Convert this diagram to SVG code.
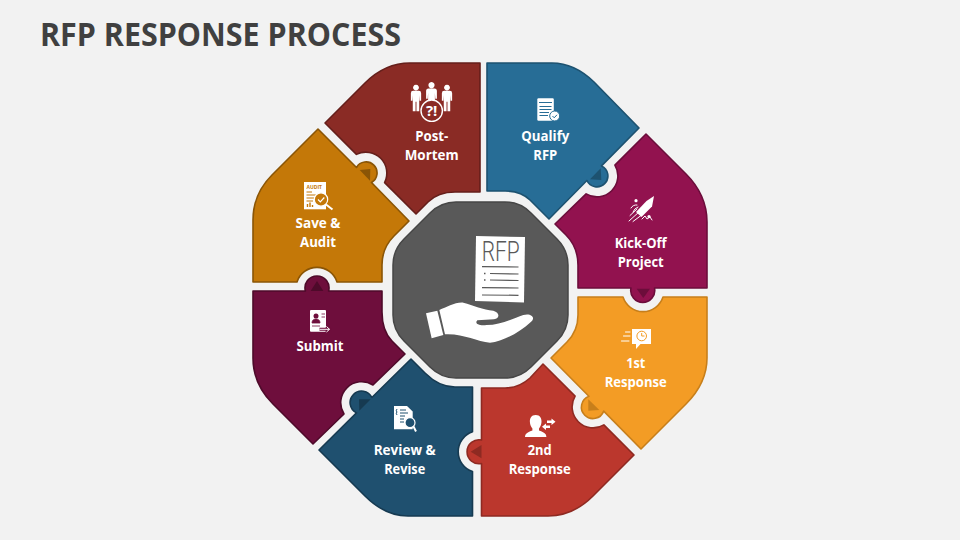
<svg xmlns="http://www.w3.org/2000/svg" width="960" height="540" viewBox="0 0 960 540">
<style>
.t{font-family:"Open Sans","Noto Sans",sans-serif;font-weight:700;font-size:14px;fill:#fff;text-anchor:middle}
.title{font-family:"Open Sans","Noto Sans",sans-serif;font-weight:700;font-size:32px;fill:#404040}
.p{stroke-width:1.6;stroke-linejoin:round}
.w{fill:#fff}
.ln{fill:none;stroke:#fff;stroke-width:1;stroke-linecap:round}
.dl{fill:none;stroke:#595959;stroke-width:1.2}
</style>
<defs>
<path id="person" d="M0-14a3.100 3.100 0 1 1-.01 0zM-3 -7.600H3Q5.400-7.600 5.400-5V2.800H3.800L3.400-3V14H.5V4H-.5V14H-3.400V-3L-3.800 2.800H-5.400V-5Q-5.400-7.600-3-7.600z"/>
</defs>
<rect width="960" height="540" fill="#f2f2f2"/>
<text class="title" x="40" y="45.700" textLength="361" lengthAdjust="spacingAndGlyphs">RFP RESPONSE PROCESS</text>

<g id="post-mortem">
<path class="p" fill="#8a2b25" stroke="#651f1b" d="M480 63H410Q385 63 365 83L325 123L356.400 154.400A21 21 0 0 1 384.600 182.600L416 214L428 202Q438 192 455 192H480Z"/>
<use href="#person" class="w" transform="translate(416 98) scale(.95)"/>
<use href="#person" class="w" transform="translate(431.500 96)"/>
<use href="#person" class="w" transform="translate(447 98) scale(.95)"/>
<circle cx="431.700" cy="110.700" r="10.700" fill="#8a2b25" stroke="#fff" stroke-width="1.400"/>
<text x="431.700" y="116" font-family="Open Sans,sans-serif" font-weight="700" font-size="15" fill="#fff" text-anchor="middle">?!</text>
<text class="t" x="431.700" y="140.700" textLength="33" lengthAdjust="spacingAndGlyphs">Post-</text>
<text class="t" x="431.700" y="160" textLength="54" lengthAdjust="spacingAndGlyphs">Mortem</text>
</g>

<g id="qualify-rfp">
<path class="p" fill="#276d96" stroke="#1d5270" d="M487 63H552Q574.500 63 594 82L639 128L601.500 165.900A11 11 0 1 1 586.900 180.500L549 219L530 200Q521 191 505 191H487Z"/>
<path fill="#1d5270" d="M590 179.300L600.700 168.300L601.300 180Z"/>
<rect class="w" x="537.300" y="98.300" width="16.500" height="22.500" rx="1.200"/>
<path d="M539 102.500H552M539.500 106.500H551.500M539.500 109.500H551.500M539.500 112.500H549M539.500 115.500H548" stroke="#276d96" stroke-width="1" fill="none"/>
<circle cx="554.700" cy="116" r="5" fill="#fff" stroke="#276d96"/>
<path d="M552.500 116l1.700 1.800 2.800-3" fill="none" stroke="#276d96" stroke-width="1"/>
<text class="t" x="545.300" y="140.700" textLength="48" lengthAdjust="spacingAndGlyphs">Qualify</text>
<text class="t" x="545.300" y="160" textLength="24" lengthAdjust="spacingAndGlyphs">RFP</text>
</g>

<g id="kick-off-project">
<path class="p" fill="#92124f" stroke="#6c0d3b" d="M646 134L686 174Q707 195 707 222V288H654.500A12 12 0 1 1 631 288H578V265Q578 247 566 235L555 224L586.100 193.900A21 21 0 0 0 614.900 165.100Z"/>
<path fill="#6c0d3b" d="M636.700 288.700H650L643.300 298Z"/>
<path class="w" d="M654 196L652 206.500L641.500 217L636 212L646.500 201Z"/>
<path class="ln" d="M629 221L639 212M633 221.500L643 214M630 215.500L637 209M631 208a6 6 0 0 1 6-3M633 212a8 8 0 0 1 5-5M642 219l3-3 2 3 3-2 2 3"/>
<circle class="w" cx="636" cy="200.700" r="1.600"/><circle class="w" cx="649" cy="216.500" r="1.600"/>
<text class="t" x="640.700" y="248" textLength="52" lengthAdjust="spacingAndGlyphs">Kick-Off</text>
<text class="t" x="640.700" y="266.700" textLength="46" lengthAdjust="spacingAndGlyphs">Project</text>
</g>

<g id="first-response">
<path class="p" fill="#f39c25" stroke="#c77f1b" d="M578 297H623A21 21 0 0 0 663 297H707V358Q707 383 686 404L641 449L603.700 411.100A11.500 11.500 0 1 1 588.900 396.300L551 358L567 342Q578 331 578 315Z"/>
<path fill="#c77f1b" d="M588.300 399.300L599.300 410L588.300 410.700Z"/>
<path class="w" d="M632 329H651V344H640.500L636 349V344H632Z"/>
<circle cx="641.700" cy="336" r="4.800" fill="none" stroke="#f39c25" stroke-width="1"/>
<path d="M641.700 333V336H644.500" fill="none" stroke="#f39c25" stroke-width="1"/>
<path class="ln" d="M625.500 332H630M623.500 336H630M621.500 341H629"/>
<text class="t" x="635.700" y="368" textLength="19" lengthAdjust="spacingAndGlyphs">1st</text>
<text class="t" x="635.700" y="386.700" textLength="62" lengthAdjust="spacingAndGlyphs">Response</text>
</g>

<g id="second-response">
<path class="p" fill="#bb372d" stroke="#8e2a22" d="M543 364L575.100 396.100A21 21 0 0 0 603.900 424.900L634 455L593 496Q573 516 548 516H481.500V463.500A12 12 0 1 1 481.500 440V388H505Q519 388 530 378Z"/>
<path fill="#8e2a22" d="M481.500 445L470.700 451.700L481.500 458.300Z"/>
<path class="w" d="M535.700 415c4.500 0 6 3.500 5.800 7-.2 2.700-1.300 5-2.500 6.500v2c3 1 5.500 2 6.800 4 .4 .8.600 2.500.600 2.500H525c0 0 .1-1.700.600-2.500 1.300-2 3.800-3 6.800-4v-2c-1.200-1.500-2.400-3.800-2.500-6.500-.2-3.500 1.300-7 5.800-7z"/>
<path class="w" d="M547 420.500H551.500V418.500L555.500 421.700L551.500 424.900V422.900H547ZM550 425.500H546V423.500L542 426.700L546 429.900V427.900H550Z"/>
<text class="t" x="539.700" y="455" textLength="24" lengthAdjust="spacingAndGlyphs">2nd</text>
<text class="t" x="539.700" y="474" textLength="62" lengthAdjust="spacingAndGlyphs">Response</text>
</g>

<g id="review-revise">
<path class="p" fill="#1f506f" stroke="#163a51" d="M411 359L425 373Q439 387 455 387H472.500V431.800A21 21 0 0 0 472.500 471.600V516H408Q385 516 365 496L319 450L356.500 412.900A11.500 11.500 0 1 1 371.900 397.500Z"/>
<path fill="#163a51" d="M359 399.300H370.700L359.300 410.700Z"/>
<path class="w" d="M394 406H407L412.700 411.500V429.300H394Z"/>
<path d="M400 410H406M400 413H408M400 416H405M400 419H404M400 422H404M397 409q-1.500 2 0 3q-1.500 1 0 3" stroke="#1f506f" stroke-width="1" fill="none"/>
<circle cx="410" cy="422.700" r="5" fill="#1f506f" stroke="#fff" stroke-width="1.200"/>
<path d="M413.500 426.500L416 431.500" stroke="#fff" stroke-width="2" fill="none"/>
<text class="t" x="404.700" y="455" textLength="62" lengthAdjust="spacingAndGlyphs">Review &amp;</text>
<text class="t" x="404.700" y="474" textLength="41" lengthAdjust="spacingAndGlyphs">Revise</text>
</g>

<g id="submit">
<path class="p" fill="#6e0e3c" stroke="#4e0a2a" d="M253 291H305.400A12 12 0 1 1 328.600 291H382V312Q382 331 392 341L405 354L373 385A21 21 0 0 0 344 414L313 444L273 404Q253 384 253 358Z"/>
<path fill="#4e0a2a" d="M310.700 291H323.300L317 281Z"/>
<rect class="w" x="310" y="310" width="16" height="21.700" rx="1"/>
<circle cx="316" cy="316" r="2.500" fill="#6e0e3c"/>
<path d="M312 323c0-3 2-4 4-4s4 1 4 4zM321.500 314H325M321.500 317H325M312 326H320" fill="#6e0e3c" stroke="#6e0e3c" stroke-width=".8"/>
<path d="M319.500 329.300H329.500M326.500 326.500L329.500 329.300L326.500 332" stroke="#6e0e3c" stroke-width="3" fill="none"/>
<path d="M319.500 329.300H329.500M326.500 326.500L329.500 329.300L326.500 332" stroke="#fff" stroke-width="1" fill="none"/>
<text class="t" x="320" y="350.700" textLength="47" lengthAdjust="spacingAndGlyphs">Submit</text>
</g>

<g id="save-audit">
<path class="p" fill="#c47808" stroke="#8a5506" d="M318 129L356.500 167.500A11 11 0 1 1 371.500 182.500L409 221L394 236Q382 248 382 265V282H337A21 21 0 0 0 297 282H253V220Q253 194 272 175Z"/>
<path fill="#8a5506" d="M359.700 170L370.300 169L370 180.700Z"/>
<rect class="w" x="304" y="182" width="22" height="27.300"/>
<text x="306.500" y="189" font-family="Open Sans,sans-serif" font-weight="700" font-size="5" fill="#c47808">AUDIT</text>
<path d="M306.500 192H312M306.500 195H317M306.500 198H315M306.500 201H313" stroke="#c47808" stroke-width="1" fill="none"/>
<path d="M307.500 207V204M310 207V202.500M312.500 207V205" stroke="#c47808" stroke-width="1.400" fill="none"/>
<circle cx="321" cy="199.500" r="6.700" fill="#c47808" stroke="#fff" stroke-width="1.200"/>
<path d="M318 199.500l2.300 2.300 4-4.300" stroke="#fff" stroke-width="1.200" fill="none"/>
<path d="M326 204.500L332.500 209.500" stroke="#fff" stroke-width="2"/>
<text class="t" x="318" y="228.300" textLength="45" lengthAdjust="spacingAndGlyphs">Save &amp;</text>
<text class="t" x="318" y="247.300" textLength="36" lengthAdjust="spacingAndGlyphs">Audit</text>
</g>

<g id="hub">
<path fill="#595959" stroke="#464646" stroke-width="1.500" d="M456 202H505Q520 202 531 213L557 239Q568 250 568 265V315Q568 330 557 341L531 367Q520 378 505 378H456Q441 378 430 367L404 341Q393 330 393 315V265Q393 250 404 239L430 213Q441 202 456 202Z"/>
<path class="w" d="M476 236L525 237L524 302.500L475 301Z"/>
<text x="481.700" y="260.700" font-family="Roboto,sans-serif" font-weight="300" font-size="27" fill="#595959" textLength="38" lengthAdjust="spacingAndGlyphs">RFP</text>
<path class="dl" d="M482 266.700L518.500 267M490 273.500L518.500 274M490 280L518.500 280.500M482 287.700L518.500 288M482 295L518.500 295.300"/>
<path d="M484 273.500h1.500M484 280h1.500" stroke="#595959" stroke-width="1.500"/>
<g transform="translate(380 190) scale(.3333)" class="w">
<path d="M138 370L172 362L190 435L155 445Z"/>
<path d="M178 360C200 352 225 336 250 338C280 345 310 360 340 362C360 368 360 385 342 388L292 391C283 400 295 408 320 405C360 405 400 385 430 375C455 368 470 385 450 398C420 425 370 455 330 458C290 455 250 430 195 433Z"/>
</g>
</g>
</svg>
